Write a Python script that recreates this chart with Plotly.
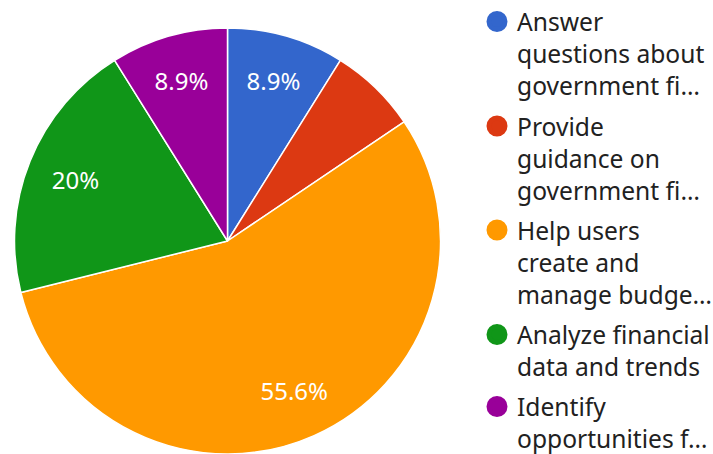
import plotly.graph_objects as go

# ---- data ----
legend_labels = [
    "Answer<br>questions about<br>government fi…",
    "Provide<br>guidance on<br>government fi…",
    "Help users<br>create and<br>manage budge…",
    "Analyze financial<br>data and trends",
    "Identify<br>opportunities f…",
]
counts = [4, 3, 25, 9, 4]
colors = ["#3366cc", "#dc3912", "#ff9900", "#109618", "#990099"]

FONT = "Noto Sans"
total = sum(counts)


def pct(v):
    s = f"{round(100 * v / total, 1):.1f}".rstrip("0").rstrip(".")
    return s + "%"


# labels shown only where the slice is big enough
slice_text = [pct(v) if v / total >= 0.08 else "" for v in counts]

W, H = 713, 454
dom_x = [14.5 / W, 440.5 / W]
dom_y = [0, 426 / H]

# legend layout (pixel rows of each entry's first line)
LEG_X = 477
LEG_ROWS = [21, 125.5, 229.5, 334, 406]
ROW_OFFSET = 22

fig = go.Figure()

# main pie
fig.add_trace(go.Pie(
    values=counts,
    labels=legend_labels,
    marker=dict(colors=colors, line=dict(color="white", width=1.5)),
    sort=False,
    direction="clockwise",
    rotation=0,
    textinfo="none",
    showlegend=False,
    domain=dict(x=dom_x, y=dom_y),
))

# transparent ring overlay used only to place the percentage labels
fig.add_trace(go.Pie(
    values=counts,
    labels=legend_labels,
    marker=dict(colors=["rgba(0,0,0,0)"] * len(counts), line=dict(width=0)),
    sort=False,
    direction="clockwise",
    rotation=0,
    hole=0.54,
    text=slice_text,
    textinfo="text",
    textposition="inside",
    insidetextorientation="horizontal",
    textfont=dict(color="white", size=24, family=FONT),
    hoverinfo="skip",
    showlegend=False,
    domain=dict(x=dom_x, y=dom_y),
))

legend_layouts = {}
for i, (name, c) in enumerate(zip(legend_labels, colors)):
    key = "legend" if i == 0 else f"legend{i + 1}"
    fig.add_trace(go.Scatter(
        x=[None], y=[None], mode="markers", name=name,
        legend=key,
        marker=dict(symbol="circle", size=16, color=c, line=dict(color=c, width=5)),
        hoverinfo="skip", showlegend=True,
    ))
    legend_layouts[key] = dict(
        x=LEG_X / W, y=1 - (LEG_ROWS[i] - ROW_OFFSET) / H,
        xanchor="left", yanchor="top", valign="top",
        font=dict(size=24.6, color="#212121", family=FONT),
        bgcolor="rgba(0,0,0,0)", borderwidth=0,
    )

fig.update_layout(
    width=W, height=H,
    margin=dict(l=0, r=0, t=0, b=0, autoexpand=False),
    paper_bgcolor="white",
    plot_bgcolor="white",
    xaxis=dict(visible=False),
    yaxis=dict(visible=False),
    showlegend=True,
    **legend_layouts,
)

fig.write_html(
    "out.html",
    config={"displayModeBar": False},
    post_script="document.body.style.margin='0';document.body.style.overflow='hidden';",
)
